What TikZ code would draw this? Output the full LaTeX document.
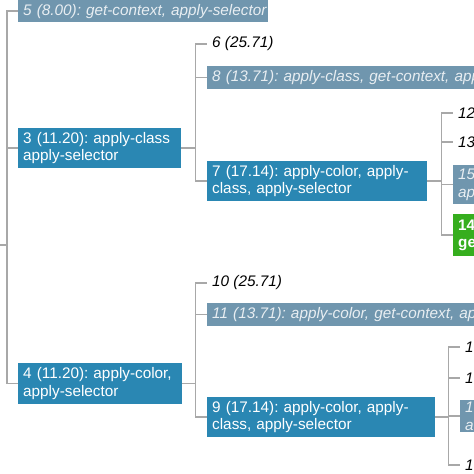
\documentclass[tikz,border=0pt]{standalone}
\usepackage{fontspec}
\setmainfont{Liberation Sans}
\definecolor{boxblue}{HTML}{2A87B3}
\definecolor{boxgray}{HTML}{7096AE}
\definecolor{boxgreen}{HTML}{36AE1E}
\definecolor{graytext}{HTML}{E8EEF2}
\definecolor{linegray}{HTML}{A8A8A8}
\newcommand{\fs}{\frenchspacing\fontsize{15.3}{17.5}\selectfont}
\begin{document}
\begin{tikzpicture}[x=1pt,y=-1pt,
 conn/.style={draw=linegray,line width=1.5pt},
 nbox/.style={anchor=north west,inner xsep=5pt,inner ysep=0pt,align=left},
 bluebox/.style={nbox,fill=boxblue,text=white,font=\fs},
 graybox/.style={nbox,fill=boxgray,text=graytext,font=\fs\itshape},
 greenbox/.style={nbox,fill=boxgreen,text=white,font=\fs\bfseries},
 lbl/.style={anchor=west,inner xsep=5pt,inner ysep=0pt,text=black,font=\fs\itshape}]
\useasboundingbox (0,0) rectangle (474,474);
\fill[white] (0,0) rectangle (474,474);
\clip (0,0) rectangle (474,474);

% nodes
\node[graybox,text width=240pt,minimum height=22pt] (n5) at (18,0) {\mbox{5 (8.00): get-context, apply-selector}};
\node[bluebox,text width=153pt,minimum height=40pt] (n3) at (18,128) {3 (11.20): apply-class\\apply-selector};
\node[bluebox,text width=154pt,minimum height=41pt] (n4) at (18,363) {4 (11.20): apply-color,\\apply-selector};

\node[lbl] (t6) at (207,44) {6 (25.71)};
\node[graybox,text width=300pt,minimum height=23pt] (n8) at (207,66) {\mbox{8 (13.71): apply-class, get-context, app}};
\node[bluebox,text width=210pt,minimum height=40pt] (n7) at (207,161) {7 (17.14): apply-color, apply-\\class, apply-selector};

\node[lbl] (t12) at (453,113) {12};
\node[lbl] (t13) at (453,142) {13};
\node[graybox,text width=60pt,minimum height=39pt] (n15) at (453,165) {15\\ap};
\node[greenbox,text width=60pt,minimum height=42pt] (n14) at (453,214) {14\\ge};

\node[lbl] (t10) at (207,283) {10 (25.71)};
\node[graybox,text width=300pt,minimum height=23pt] (n11) at (207,303) {\mbox{11 (13.71): apply-color, get-context, ap}};
\node[bluebox,text width=218pt,minimum height=40pt] (n9) at (207,397) {9 (17.14): apply-color, apply-\\class, apply-selector};

\node[lbl] (t16) at (460,347) {1};
\node[lbl] (t17) at (460,378) {1};
\node[graybox,text width=60pt,minimum height=32pt] (n18) at (460,400) {1\\a};
\node[lbl] (t19) at (460,465) {1};

% connectors
\coordinate (r) at (0,245);
\coordinate (j0) at (7,245);
\draw[conn] (r) -- (j0);
\draw[conn] (j0) |- (n5.west) (j0) |- (n3.west) (j0) |- (n4.west);

\path (n3.east) ++(14,0) coordinate (j3);
\draw[conn] (n3.east) -- (j3) (j3) |- (t6.west) (j3) |- (n8.west) (j3) |- (n7.west);

\path (n7.east) ++(14,0) coordinate (j7);
\draw[conn] (n7.east) -- (j7) (j7) |- (t12.west) (j7) |- (t13.west) (j7) |- (n15.west) (j7) |- (n14.west);

\path (n4.east) ++(13,0) coordinate (j4);
\draw[conn] (n4.east) -- (j4) (j4) |- (t10.west) (j4) |- (n11.west) (j4) |- (n9.west);

\path (n9.east) ++(13,0) coordinate (j9);
\draw[conn] (n9.east) -- (j9) (j9) |- (t16.west) (j9) |- (t17.west) (j9) |- (n18.west) (j9) |- (t19.west);
\end{tikzpicture}
\end{document}
